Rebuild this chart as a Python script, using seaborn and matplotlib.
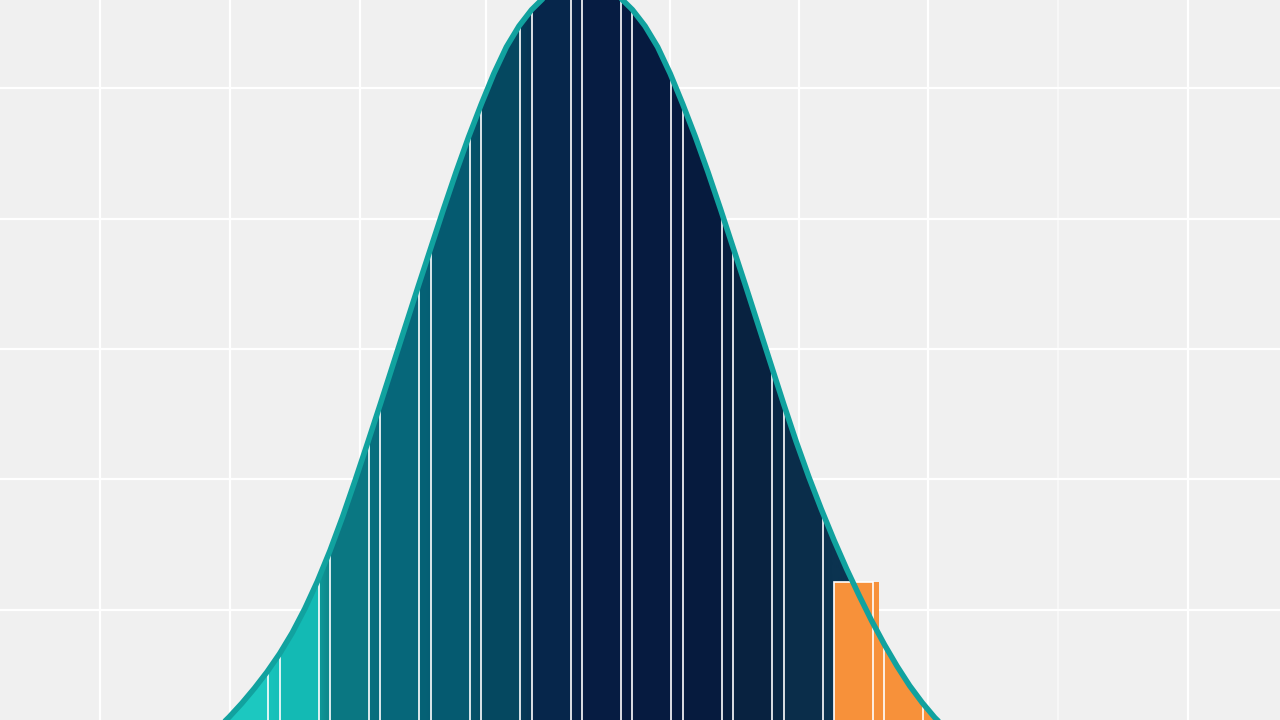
import numpy as np
import matplotlib
matplotlib.use("Agg")
import matplotlib.pyplot as plt
from matplotlib.colors import LinearSegmentedColormap, Normalize
from matplotlib.patches import PathPatch
import seaborn as sns

# кривая распределения (x - номер корзины, y - условные единицы)
curve_x = [-3.0, -2.75, -2.5, -2.25, -2.0, -1.75, -1.5, -1.25, -1.0, -0.75, -0.5, -0.25,
           0.0, 0.25, 0.5, 0.75, 1.0, 1.25, 1.5, 1.75, 2.0, 2.25, 2.5, 2.75,
           3.0, 3.25, 3.5, 3.75, 4.0, 4.25, 4.5, 4.75, 5.0, 5.25, 5.5, 5.75,
           6.0, 6.25, 6.5, 6.75, 7.0, 7.25, 7.5, 7.75, 8.0, 8.25, 8.5, 8.75,
           9.0, 9.25, 9.5, 9.75, 10.0, 10.25, 10.5, 10.75, 11.0, 11.25, 11.5, 11.75,
           12.0, 12.25, 12.5, 12.75, 13.0]
curve_y = [0.0, 0.0, 0.3, 1.7, 3.6, 5.7, 8.0, 10.5, 13.3, 16.5, 20.2, 24.4,
           29.1, 34.3, 39.9, 45.7, 51.6, 57.6, 63.6, 69.6, 75.5, 81.4, 87.1, 92.5,
           97.5, 102.2, 106.3, 109.5, 112.0, 113.9, 115.3, 116.2, 116.5, 116.2, 115.3, 113.9,
           112.0, 109.5, 106.3, 102.2, 97.5, 92.5, 87.1, 81.4, 75.5, 69.6, 63.6, 57.6,
           51.6, 45.8, 40.4, 35.4, 30.7, 26.3, 22.2, 18.3, 14.7, 11.4, 8.4, 5.8,
           3.5, 1.6, 0.3, 0.0, 0.0]

# столбики гистограммы (обрезаются кривой)
bins = [-2, -1, 0, 1, 2, 3, 4, 5, 6, 7, 8, 9, 10, 11]
bar_heights = [10.8, 24.8, 46.2, 70.2, 93.0, 109.7, 116.2, 116.5,
               112.0, 97.5, 75.5, 51.6, 24.3, 14.7]

# выделенная корзина
highlight_bin = 10
highlight_height = 24.3
tail_start = 10.75

# градиент заливки: опорные точки по x и цвета
grad_x = [-2.0, -0.6, -0.1, 0.4, 1.4, 2.4, 3.4, 4.4, 5.4, 7.3, 8.3, 9.3, 10.0]
grad_colors = ["#1fcdc4", "#13bab4", "#0f8c8e", "#0a7581", "#06677a", "#055a70",
               "#05475f", "#06264b", "#061c42", "#061a3e", "#08213f", "#0a2c49", "#0b3350"]

bg = "#f0f0f0"
teal = "#11a29f"
orange = "#f7913a"

sns.set_theme(style="whitegrid")

norm = Normalize(grad_x[0], grad_x[-1])
cmap = LinearSegmentedColormap.from_list(
    "bell", [(norm(x), c) for x, c in zip(grad_x, grad_colors)])

fig, ax = plt.subplots(figsize=(12.8, 7.2), dpi=100)
fig.subplots_adjust(left=0, right=1, bottom=0, top=1)
fig.patch.set_facecolor(bg)
ax.set_facecolor(bg)

# контур под кривой - для обрезки
area = ax.fill_between(curve_x, curve_y, 0, color="none", linewidth=0)
clip = PathPatch(area.get_paths()[0], transform=ax.transData,
                 facecolor="none", edgecolor="none")
ax.add_patch(clip)

# плавный градиент
img = ax.imshow(np.linspace(curve_x[0], curve_x[-1], 800)[None, :],
                extent=(curve_x[0], curve_x[-1], 0, 120), aspect="auto",
                cmap=cmap, norm=norm, origin="lower", zorder=1,
                interpolation="bilinear")
img.set_clip_path(clip)

# хвост справа - оранжевый
ax.fill_between(curve_x, curve_y, 0, where=np.array(curve_x) >= tail_start,
                color=orange, linewidth=0, zorder=1.5)

# подложка выделенного столбика
ax.bar(highlight_bin, highlight_height, width=0.89, align="edge",
       color=orange, linewidth=0, zorder=2)

bar_colors = [orange if b >= highlight_bin else cmap(norm(b + 0.387)) for b in bins]
bars = ax.bar(bins, bar_heights, width=0.774, align="edge", color=bar_colors,
              edgecolor="white", linewidth=1.2, zorder=2.2)
for b, patch in zip(bins, bars.patches):
    if b != highlight_bin:
        patch.set_clip_path(clip)

sns.lineplot(x=curve_x, y=curve_y, color=teal, linewidth=4.0, ax=ax, zorder=3)

# сетка
ax.set_xticks([-4.563, -1.984, 0.595, 3.095, 6.746, 9.306, 11.865, 14.444, 17.024])
ax.set_yticks([20, 40, 60, 80, 100])
ax.grid(True, color="white", linewidth=1.6)
ax.set_axisbelow(True)
ax.get_xgridlines()[7].set_alpha(0.5)
ax.tick_params(length=0, labelbottom=False, labelleft=False)
sns.despine(ax=ax, left=True, bottom=True)
ax.set_xlabel("")
ax.set_ylabel("")

ax.set_xlim(-6.548, 18.849)
ax.set_ylim(3.14, 113.49)

fig.savefig("out.png", dpi=100, facecolor=bg)
